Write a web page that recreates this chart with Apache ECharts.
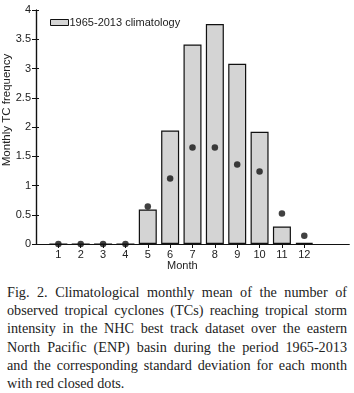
<!DOCTYPE html>
<html>
<head>
<meta charset="utf-8">
<script src="https://cdn.jsdelivr.net/npm/echarts@6/dist/echarts.min.js"></script>
<style>
  html, body { margin: 0; padding: 0; background: #fff; }
  #chart { width: 354px; height: 270px; }
  #caption {
    position: absolute; left: 7px; top: 283px; width: 340px;
    font-family: "Liberation Serif", serif; font-size: 14.2px; line-height: 18.2px;
    color: #222;
  }
  #caption div { text-align: justify; text-align-last: justify; white-space: nowrap; }
  #caption div.last { text-align-last: left; }
</style>
</head>
<body>
<div id="chart"></div>
<div id="caption">
  <div>Fig. 2. Climatological monthly mean of the number of</div>
  <div>observed tropical cyclones (TCs) reaching tropical storm</div>
  <div>intensity in the NHC best track dataset over the eastern</div>
  <div>North Pacific (ENP) basin during the period 1965-2013</div>
  <div>and the corresponding standard deviation for each month</div>
  <div class="last">with red closed dots.</div>
</div>
<script>
// month numbers and the two series
var months = [1, 2, 3, 4, 5, 6, 7, 8, 9, 10, 11, 12];
var meanTC = [0, 0, 0, 0, 0.59, 1.94, 3.41, 3.76, 3.08, 1.92, 0.30, 0.02];
var stdTC = [0, 0, 0, 0, 0.64, 1.12, 1.65, 1.65, 1.36, 1.24, 0.52, 0.14];

var barData = months.map(function (m, i) { return [m, meanTC[i]]; });
var dotData = months.map(function (m, i) { return [m, stdTC[i]]; });

var font = 'Liberation Sans, Arial, sans-serif';
var chart = echarts.init(document.getElementById('chart'));

chart.setOption({
  animation: false,
  grid: { left: 36, right: 5, top: 10, bottom: 26 },
  legend: {
    left: 50, top: 17, padding: 0, itemWidth: 18, itemHeight: 6, icon: 'rect',
    data: ['1965-2013 climatology'],
    itemStyle: { borderWidth: 1 },
    textStyle: { fontFamily: font, fontSize: 11, color: '#222', padding: [0, 0, 0, -4] }
  },
  xAxis: [{
    type: 'value', min: 0, max: 14, interval: 1,
    axisLine: { lineStyle: { color: '#111', width: 1.2 } },
    axisTick: { show: false },
    splitLine: { show: false },
    axisLabel: {
      margin: 5, fontFamily: font, fontSize: 11, color: '#222',
      formatter: function (v) { return (v >= 1 && v <= 12) ? String(v) : ''; }
    }
  }, {
    type: 'value', min: 0, max: 14, position: 'top',
    axisLine: { lineStyle: { color: '#111', width: 1.2 } },
    axisTick: { inside: true, length: 4, customValues: months, lineStyle: { color: '#111' } },
    axisLabel: { show: false },
    splitLine: { show: false }
  }],
  yAxis: [{
    type: 'value', min: 0, max: 4, interval: 0.5,
    axisLine: { show: true, lineStyle: { color: '#111', width: 1.2 } },
    axisTick: { show: true, inside: true, length: 3, lineStyle: { color: '#111' } },
    splitLine: { show: false },
    axisLabel: { margin: 5, fontFamily: font, fontSize: 11, color: '#222' }
  }, {
    type: 'value', min: 0, max: 4, interval: 0.5, position: 'right',
    axisLine: { show: true, lineStyle: { color: '#111', width: 1.2 } },
    axisTick: { show: true, inside: true, length: 4, lineStyle: { color: '#111' } },
    splitLine: { show: false },
    axisLabel: { show: false }
  }],
  graphic: [{
    type: 'text', x: 7, y: 110, rotation: Math.PI / 2,
    style: {
      text: 'Monthly TC frequency', font: '11.5px ' + font, fill: '#222',
      align: 'center', verticalAlign: 'middle'
    }
  }, {
    type: 'text', left: 167, top: 260,
    style: { text: 'Month', font: '11px ' + font, fill: '#222' }
  }],
  series: [{
    name: '1965-2013 climatology', type: 'bar', barWidth: 18,
    data: barData,
    itemStyle: { color: '#d4d4d4', borderColor: '#111', borderWidth: 1.2 }
  }, {
    name: 'std', type: 'scatter', symbolSize: 6.5,
    data: dotData,
    itemStyle: { color: '#111' },
    z: 5
  }]
});
</script>
</body>
</html>
